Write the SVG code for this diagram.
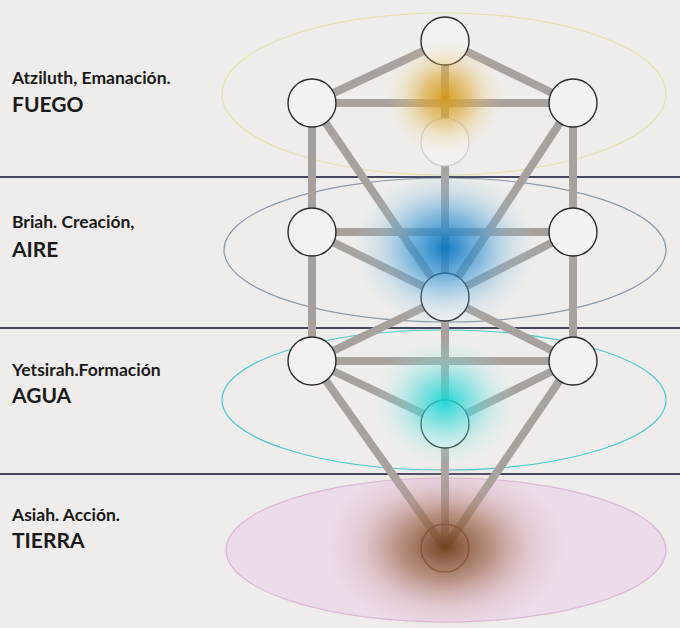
<svg xmlns="http://www.w3.org/2000/svg" width="680" height="628" viewBox="0 0 680 628">
<defs>
<radialGradient id="gY"><stop offset="0" stop-color="#d49a18" stop-opacity="0.95"/><stop offset="0.4" stop-color="#dca838" stop-opacity="0.6"/><stop offset="0.75" stop-color="#e8c470" stop-opacity="0.2"/><stop offset="1" stop-color="#f0d080" stop-opacity="0"/></radialGradient>
<radialGradient id="gB"><stop offset="0" stop-color="#0a74c0" stop-opacity="0.95"/><stop offset="0.4" stop-color="#3494d4" stop-opacity="0.6"/><stop offset="0.75" stop-color="#7ab8e0" stop-opacity="0.22"/><stop offset="1" stop-color="#9ccbe8" stop-opacity="0"/></radialGradient>
<radialGradient id="gC"><stop offset="0" stop-color="#18d4d4" stop-opacity="0.95"/><stop offset="0.4" stop-color="#48dada" stop-opacity="0.55"/><stop offset="0.75" stop-color="#88e6e6" stop-opacity="0.2"/><stop offset="1" stop-color="#a0eeee" stop-opacity="0"/></radialGradient>
<radialGradient id="gT"><stop offset="0" stop-color="#6c3c18" stop-opacity="0.95"/><stop offset="0.4" stop-color="#9a6444" stop-opacity="0.6"/><stop offset="0.75" stop-color="#c89a98" stop-opacity="0.22"/><stop offset="1" stop-color="#d8b0b8" stop-opacity="0"/></radialGradient>
<style>
.lbl{font-family:Lato,"Liberation Sans",sans-serif;font-weight:bold;fill:#1a1a1a}
.s{font-size:17.5px}
.b{font-size:21px}
.div{stroke:#46465e;stroke-width:2}
.con line{stroke:#a8a29e;stroke-width:8}
.n{fill:#f4f2f0;stroke:#2a2a2a;stroke-width:1.4}
</style>
</defs>
<rect width="680" height="628" fill="#efedeb"/>
<g id="ellipses" fill="none">
<ellipse cx="444" cy="94" rx="222" ry="81" stroke="#e8dfa8" stroke-width="1.2"/>
<ellipse cx="445" cy="250" rx="221" ry="72" stroke="#8d9aa8" stroke-width="1.2"/>
<ellipse cx="444" cy="400" rx="222" ry="70" stroke="#4ccaca" stroke-width="1.2"/>
<ellipse cx="446" cy="550" rx="220" ry="72" fill="#ecdbe8" stroke="#dcb8d6" stroke-width="1.2"/>
</g>
<g id="dividers">
<line class="div" x1="0" y1="177" x2="680" y2="177"/>
<line class="div" x1="0" y1="328" x2="680" y2="328"/>
<line class="div" x1="0" y1="474" x2="680" y2="474"/>
</g>
<g id="connectors" class="con">
<line x1="445" y1="41" x2="312" y2="103"/>
<line x1="445" y1="41" x2="573" y2="103"/>
<line x1="312" y1="103" x2="573" y2="103"/>
<line x1="445" y1="41" x2="445" y2="548"/>
<line x1="312" y1="103" x2="312" y2="361"/>
<line x1="573" y1="103" x2="573" y2="361"/>
<line x1="312" y1="103" x2="445" y2="297"/>
<line x1="573" y1="103" x2="445" y2="297"/>
<line x1="312" y1="232" x2="573" y2="232"/>
<line x1="312" y1="232" x2="445" y2="297"/>
<line x1="573" y1="232" x2="445" y2="297"/>
<line x1="312" y1="361" x2="445" y2="297"/>
<line x1="573" y1="361" x2="445" y2="297"/>
<line x1="312" y1="361" x2="573" y2="361"/>
<line x1="312" y1="361" x2="445" y2="424"/>
<line x1="573" y1="361" x2="445" y2="424"/>
<line x1="312" y1="361" x2="445" y2="548"/>
<line x1="573" y1="361" x2="445" y2="548"/>
</g>
<g id="node-kether"><circle class="n" cx="445" cy="41" r="24"/></g>
<g id="node-binah"><circle class="n" cx="312" cy="103" r="24"/></g>
<g id="node-chokmah"><circle class="n" cx="573" cy="103" r="24"/></g>
<g id="node-daat"><circle cx="445" cy="142" r="24" fill="#f2f0ee" stroke="#d2ccc8" stroke-width="1.2"/></g>
<g id="node-geburah"><circle class="n" cx="312" cy="232" r="24"/></g>
<g id="node-chesed"><circle class="n" cx="573" cy="232" r="24"/></g>
<g id="node-tiferet"><circle class="n" cx="445" cy="297" r="24"/></g>
<g id="node-hod"><circle class="n" cx="312" cy="361" r="24"/></g>
<g id="node-netzach"><circle class="n" cx="573" cy="361" r="24"/></g>
<g id="node-yesod"><circle class="n" cx="445" cy="424" r="24"/></g>
<g id="node-malkuth"><circle cx="445" cy="548" r="24" fill="none" stroke="#8a5a44" stroke-width="1.4"/></g>
<g id="glows">
<ellipse cx="445" cy="97" rx="58" ry="56" fill="url(#gY)"/>
<ellipse cx="445" cy="248" rx="92" ry="80" fill="url(#gB)"/>
<ellipse cx="445" cy="402" rx="72" ry="64" fill="url(#gC)"/>
<ellipse cx="445" cy="547" rx="120" ry="85" fill="url(#gT)"/>
</g>
<g id="labels">
<text class="lbl s" x="12" y="84">Atziluth, Emanación.</text>
<text class="lbl b" x="12" y="112">FUEGO</text>
<text class="lbl s" x="12" y="228">Briah. Creación,</text>
<text class="lbl b" x="12" y="257">AIRE</text>
<text class="lbl s" x="12" y="376">Yetsirah.Formación</text>
<text class="lbl b" x="12" y="403">AGUA</text>
<text class="lbl s" x="12" y="521">Asiah. Acción.</text>
<text class="lbl b" x="12" y="548">TIERRA</text>
</g>
</svg>
